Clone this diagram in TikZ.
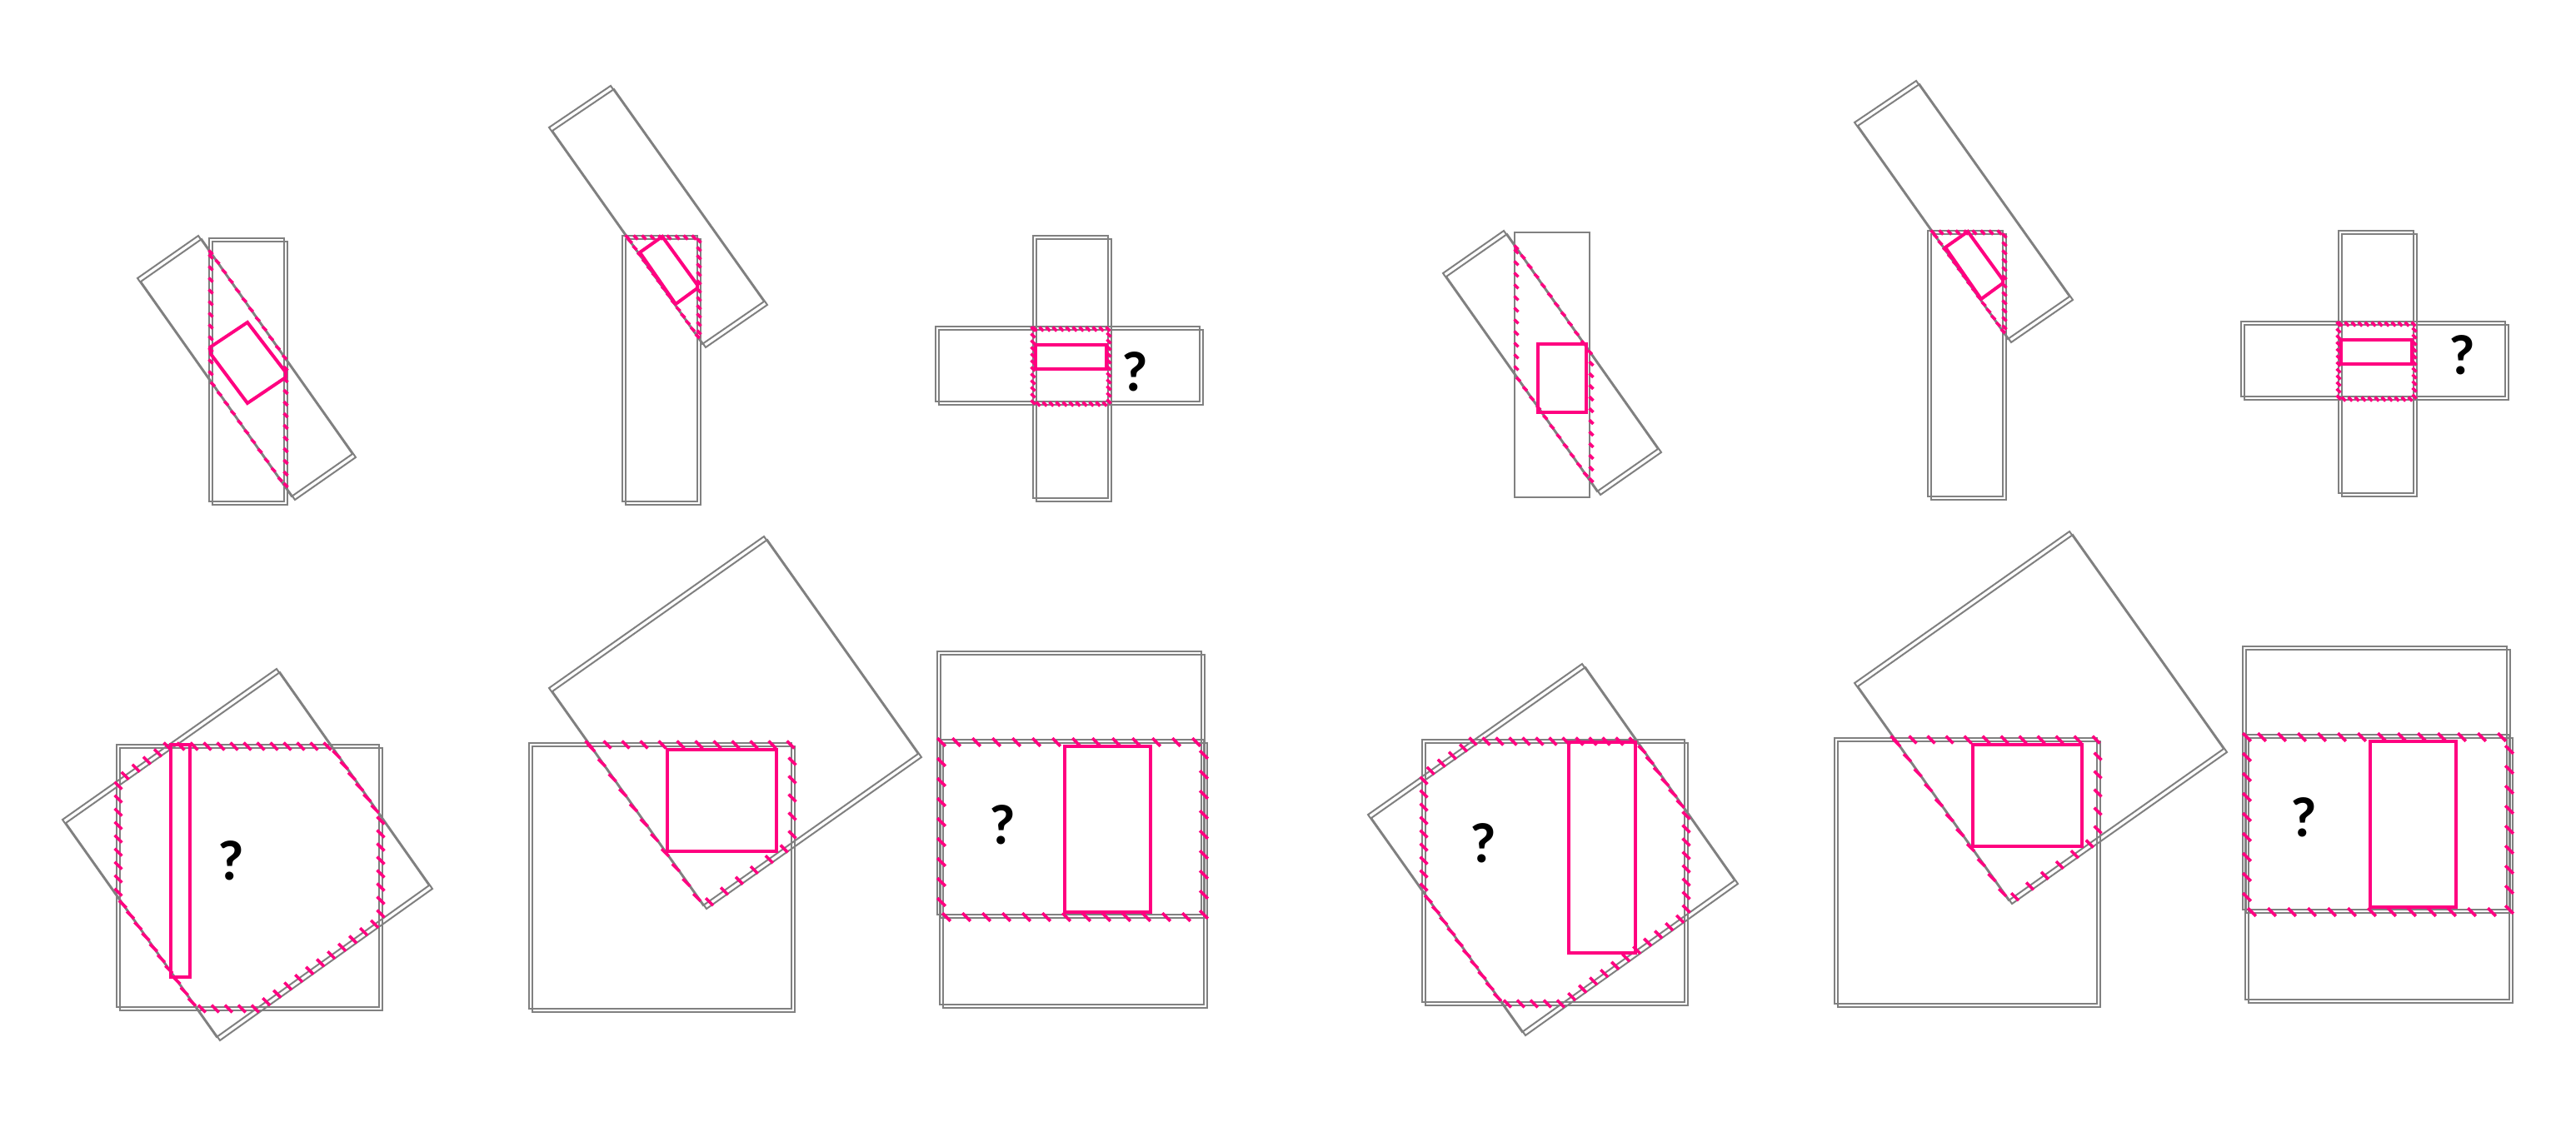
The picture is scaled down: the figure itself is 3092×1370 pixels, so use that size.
\documentclass[tikz,border=0pt]{standalone}
\usepackage{fontspec}
\setmainfont{Carlito}
\usetikzlibrary{decorations.markings}
\definecolor{edgegray}{RGB}{128,128,128}
\definecolor{pinkred}{RGB}{255,0,128}
\tikzset{
  gl/.style={draw=edgegray, line width=0.5pt, line join=miter},
  mrect/.style={draw=pinkred, line width=1pt, line join=miter},
  hatchline/.style 2 args={decorate, decoration={markings,
     mark=between positions 0 and 1 step #1 with {\pgftransformresetnontranslations
       \draw[pinkred, line width=0.9pt] (-#2,#2) -- (#2,-#2);}}},
  qmark/.style={font=\bfseries\fontsize{17pt}{17pt}\selectfont, inner sep=0pt, text=black}
}
\newcommand\dbl[1]{\draw[gl] #1; \draw[gl, shift={(4,4)}] #1;}
\newcommand\PanelTwo{%
  \dbl{(747,283) rectangle (837,602)}
  \dbl{(733,103) -- (917,362) -- (843,413) -- (659,153) -- cycle}
  \path[hatchline={2.5pt}{0.6pt}] (753,285) -- (839,285) -- (839,406) -- cycle;
  \draw[mrect] (768,303) -- (795,284) -- (837,342) -- (837,346) -- (811,365) -- cycle;
}
\newcommand\PanelThree{%
  \dbl{(1240,283) rectangle (1330,598)}
  \dbl{(1123,392) rectangle (1440,482)}
  \path[hatchline={2pt}{0.6pt}] (1240,395) rectangle (1331,485);
  \draw[mrect] (1243,414) rectangle (1328,443);
}
\newcommand\TiltOne{%
  \dbl{(238,283) -- (423,545) -- (350,596) -- (165,334) -- cycle}
  \path[hatchline={3.5pt}{0.6pt}] (253,303) -- (343,431) -- (343,585) -- (253,458) -- cycle;
}
\newcommand\PanelSeven{%
  \dbl{(140,894) rectangle (455,1209)}
  \dbl{(332,803) -- (515,1063) -- (260,1245) -- (75,984) -- cycle}
  \path[hatchline={4pt}{1.1pt}] (201,896) -- (397,896) -- (457,981) -- (457,1104) -- (308,1211) -- (236,1211) -- (142,1078) -- (142,937) -- cycle;
}
\newcommand\PanelEight{%
  \dbl{(635,892) rectangle (950,1211)}
  \dbl{(917,644) -- (1102,905) -- (844,1087) -- (659,826) -- cycle}
  \path[hatchline={5.5pt}{1.1pt}] (707,894) -- (951,894) -- (951,1012) -- (844,1088) -- cycle;
  \draw[mrect] (801,900) rectangle (932,1022);
}
\newcommand\PanelNine{%
  \dbl{(1125,782) rectangle (1442,1098)}
  \dbl{(1128,888) rectangle (1445,1206)}
  \path[hatchline={6pt}{1.2pt}] (1130,891) rectangle (1445,1101);
  \draw[mrect] (1278,896) rectangle (1381,1095);
}
\begin{document}
\begin{tikzpicture}[x=0.25pt, y=-0.25pt]
\useasboundingbox (0,0) rectangle (3092,1370);
% ---------- top row, left half ----------
% panel 1
\dbl{(251,286) rectangle (341,602)}
\TiltOne
\draw[mrect] (252,417) -- (297,387) -- (343,447) -- (343,453) -- (297,484) -- (253,425) -- cycle;
% panel 2
\PanelTwo
% panel 3
\PanelThree
\node[qmark] (q3) at (1362,446) {?};
% ---------- top row, right half ----------
% panel 4
\draw[gl, line width=0.7pt] (1818,279) rectangle (1908,597);
\begin{scope}[shift={(1567,-6)}]
  \TiltOne
\end{scope}
\draw[mrect] (1846,413) rectangle (1904,495);
% panel 5
\begin{scope}[shift={(1567,-6)}]
  \PanelTwo
\end{scope}
% panel 6
\begin{scope}[shift={(1567,-6)}]
  \PanelThree
\end{scope}
\node[qmark] (q6) at (2955,426) {?};
% ---------- bottom row, left half ----------
\PanelSeven
\draw[mrect] (205,894) rectangle (228,1173);
\node[qmark] (q7) at (277,1033) {?};
\PanelEight
\PanelNine
\node[qmark] (q9) at (1203,990) {?};
% ---------- bottom row, right half ----------
\begin{scope}[shift={(1567,-6)}]
  \PanelSeven
\end{scope}
\draw[mrect] (1883,891) rectangle (1963,1144);
\node[qmark] (q10) at (1780,1012) {?};
\begin{scope}[shift={(1567,-6)}]
  \PanelEight
\end{scope}
\begin{scope}[shift={(1567,-6)}]
  \PanelNine
\end{scope}
\node[qmark] (q12) at (2765,981) {?};
\end{tikzpicture}
\end{document}
